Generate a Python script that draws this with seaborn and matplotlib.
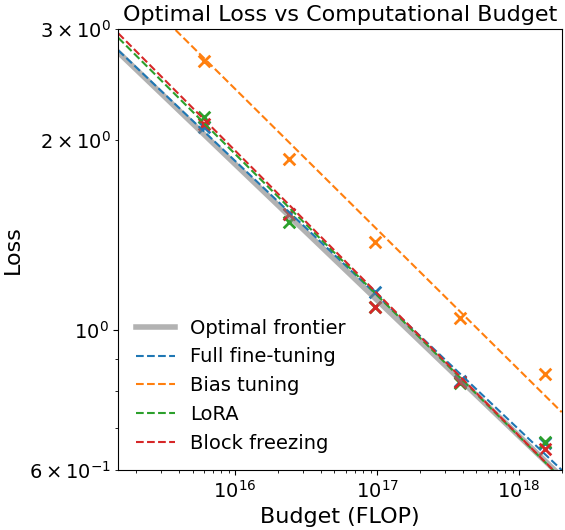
import numpy as np
import matplotlib
matplotlib.use("Agg")
import matplotlib.pyplot as plt
import seaborn as sns

# compute budgets of the runs (FLOP)
budgets = [6e15, 2.4e16, 9.6e16, 3.84e17, 1.536e18]

# measured losses per method
loss_full = [2.10, 1.53, 1.149, 0.830, 0.662]
loss_bias = [2.672, 1.871, 1.379, 1.044, 0.852]
loss_lora = [2.174, 1.484, 1.089, 0.825, 0.665]
loss_block = [2.126, 1.527, 1.089, 0.826, 0.649]

methods = ["Full fine-tuning", "Bias tuning", "LoRA", "Block freezing"]
colors = ["tab:blue", "tab:orange", "tab:green", "tab:red"]

# power-law fits: loss at the smallest plotted budget, and exponent
fit_start = [2.778, 3.68, 2.908, 2.956]
fit_exp = [-0.2130, -0.2227, -0.2238, -0.2260]
frontier_start = 2.758
frontier_exp = -0.2155

budget_range = [1.5e15, 2e18]
loss_range = [0.6, 3]

plt.rcParams["font.size"] = 14

fig = plt.figure(figsize=(5.65, 5.3), dpi=100)
ax = fig.add_axes([0.2094, 0.1132, 0.7848, 0.8315])

xs = np.array(budget_range)

# optimal frontier
sns.lineplot(x=xs, y=frontier_start * (xs / xs[0]) ** frontier_exp, color="gray",
             alpha=0.6, linewidth=4, label="Optimal frontier", ax=ax)

all_losses = [loss_full, loss_bias, loss_lora, loss_block]
for name, col, losses, a, b in zip(methods, colors, all_losses, fit_start, fit_exp):
    sns.lineplot(x=xs, y=a * (xs / xs[0]) ** b, color=col, linestyle="--",
                 linewidth=1.5, label=name, ax=ax)
    sns.scatterplot(x=budgets, y=losses, marker="x", color=col, s=70,
                    linewidth=2, ax=ax)

ax.set_xscale("log")
ax.set_yscale("log")
ax.set_xlim(*budget_range)
ax.set_ylim(*loss_range)

ax.set_title("Optimal Loss vs Computational Budget", fontsize=16)
ax.set_xlabel("Budget (FLOP)", fontsize=16)
ax.set_ylabel("Loss", fontsize=16)
ax.legend(loc="lower left", frameon=False, fontsize=14)

fig.savefig("out.png", dpi=100)
